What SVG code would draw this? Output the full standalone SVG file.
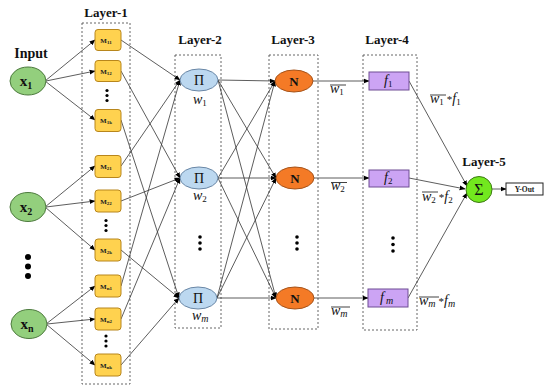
<svg xmlns="http://www.w3.org/2000/svg" width="550" height="391" viewBox="0 0 550 391">
<defs>
<marker id="ar" viewBox="0 0 10 10" refX="9" refY="5" markerWidth="6" markerHeight="6" markerUnits="userSpaceOnUse" orient="auto">
<path d="M0,1 L10,5 L0,9 z" fill="#000"/>
</marker>
<style>
.lbl{font-family:"Liberation Serif",serif;font-weight:bold;font-size:13px;fill:#111;text-anchor:middle}
.box{fill:none;stroke:#555;stroke-width:0.9;stroke-dasharray:2,2}
.in{fill:#93cf7d;stroke:#4d7a3e;stroke-width:1}
.m{fill:#ffd24f;stroke:#b8861c;stroke-width:1}
.pi{fill:#bcd8f0;stroke:#6a87a6;stroke-width:1}
.n{fill:#f47a26;stroke:#a5531a;stroke-width:1}
.f{fill:#cca4f4;stroke:#6e4d94;stroke-width:1}
.sg{fill:#72e81e;stroke:#3c7a12;stroke-width:1}
.yo{fill:#fff;stroke:#222;stroke-width:1}
.mt{font-family:"Liberation Serif",serif;font-weight:bold;font-size:7px;fill:#222;text-anchor:middle}
.xt{font-family:"Liberation Serif",serif;font-weight:bold;font-size:15px;fill:#111;text-anchor:middle}
.pt{font-family:"Liberation Serif",serif;font-size:14px;fill:#111;text-anchor:middle}
.nt{font-family:"Liberation Serif",serif;font-weight:bold;font-size:13px;fill:#111;text-anchor:middle}
.it{font-family:"Liberation Serif",serif;font-style:italic;font-size:14px;fill:#111}
.sb{font-style:normal;font-size:9px}
.sm{font-style:italic;font-size:10px}
.c{stroke:#333;stroke-width:0.8;fill:none;marker-end:url(#ar)}
.ob{stroke:#111;stroke-width:0.8}
.d{fill:#000}
</style>
</defs>

<g id="layer-boxes">
<rect class="box" x="82" y="23" width="48" height="361"/>
<rect class="box" x="175" y="55" width="46" height="273"/>
<rect class="box" x="269" y="55" width="49" height="274"/>
<rect class="box" x="363" y="55" width="54" height="275"/>
</g>

<g id="layer-labels">
<text class="lbl" x="106" y="17">Layer-1</text>
<text class="lbl" x="200" y="44">Layer-2</text>
<text class="lbl" x="293" y="44">Layer-3</text>
<text class="lbl" x="387" y="44">Layer-4</text>
<text class="lbl" x="484" y="166">Layer-5</text>
<text class="lbl" x="31" y="58" style="font-size:14px">Input</text>
</g>

<g id="connectors">
<line class="c" x1="45" y1="81" x2="95" y2="40"/>
<line class="c" x1="46" y1="81" x2="95" y2="71"/>
<line class="c" x1="45" y1="81" x2="95" y2="120"/>
<line class="c" x1="45" y1="207" x2="95" y2="166"/>
<line class="c" x1="46" y1="207" x2="95" y2="201"/>
<line class="c" x1="45" y1="207" x2="95" y2="250"/>
<line class="c" x1="46" y1="324" x2="95" y2="286"/>
<line class="c" x1="47" y1="324" x2="95" y2="319"/>
<line class="c" x1="46" y1="324" x2="95" y2="365"/>
<line class="c" x1="121" y1="40" x2="180" y2="80"/>
<line class="c" x1="121" y1="166" x2="180" y2="80"/>
<line class="c" x1="121" y1="286" x2="180" y2="80"/>
<line class="c" x1="121" y1="71" x2="180" y2="178"/>
<line class="c" x1="121" y1="201" x2="180" y2="178"/>
<line class="c" x1="121" y1="319" x2="180" y2="178"/>
<line class="c" x1="121" y1="120" x2="179" y2="298"/>
<line class="c" x1="121" y1="250" x2="179" y2="298"/>
<line class="c" x1="121" y1="365" x2="179" y2="298"/>
<line class="c" x1="218" y1="80" x2="275" y2="81"/>
<line class="c" x1="218" y1="80" x2="276" y2="178"/>
<line class="c" x1="218" y1="80" x2="276" y2="298"/>
<line class="c" x1="218" y1="178" x2="275" y2="81"/>
<line class="c" x1="218" y1="178" x2="276" y2="178"/>
<line class="c" x1="218" y1="178" x2="276" y2="298"/>
<line class="c" x1="217" y1="298" x2="275" y2="81"/>
<line class="c" x1="217" y1="298" x2="276" y2="178"/>
<line class="c" x1="217" y1="298" x2="276" y2="298"/>
<line class="c" x1="313" y1="81" x2="369" y2="81"/>
<line class="c" x1="314" y1="178" x2="369" y2="178"/>
<line class="c" x1="314" y1="298" x2="368" y2="298"/>
<line class="c" x1="409" y1="81" x2="467" y2="186"/>
<line class="c" x1="409" y1="178" x2="465" y2="189"/>
<line class="c" x1="408" y1="298" x2="467" y2="193"/>
<line class="c" x1="492" y1="189" x2="506" y2="189"/>
</g>

<g id="x1"><ellipse class="in" cx="28" cy="81" rx="18" ry="14"/><text class="xt" x="26" y="86">x<tspan font-size="10" dy="3">1</tspan></text></g>
<g id="x2"><ellipse class="in" cx="28" cy="207" rx="18" ry="14.5"/><text class="xt" x="26" y="212">x<tspan font-size="10" dy="3">2</tspan></text></g>
<g id="xn"><ellipse class="in" cx="29" cy="324" rx="18" ry="14.5"/><text class="xt" x="27" y="329">x<tspan font-size="10" dy="3">n</tspan></text></g>
<g id="input-dots"><circle class="d" cx="28" cy="257" r="3"/><circle class="d" cx="28" cy="266.5" r="3"/><circle class="d" cx="28" cy="276" r="3"/></g>

<g id="M11"><rect class="m" x="95" y="29.5" width="26" height="21" rx="3"/><text class="mt" x="106" y="42.5">M<tspan font-size="5" dy="1">11</tspan></text></g>
<g id="M12"><rect class="m" x="95" y="60.5" width="26" height="21" rx="3"/><text class="mt" x="106" y="73.5">M<tspan font-size="5" dy="1">12</tspan></text></g>
<g id="M1k"><rect class="m" x="95" y="109.5" width="26" height="22" rx="3"/><text class="mt" x="106" y="123">M<tspan font-size="5" dy="1">1k</tspan></text></g>
<g id="M21"><rect class="m" x="95" y="155.5" width="26" height="22" rx="3"/><text class="mt" x="106" y="169">M<tspan font-size="5" dy="1">21</tspan></text></g>
<g id="M22"><rect class="m" x="95" y="190" width="26" height="22" rx="3"/><text class="mt" x="106" y="203.5">M<tspan font-size="5" dy="1">22</tspan></text></g>
<g id="M2k"><rect class="m" x="95" y="239" width="26" height="22" rx="3"/><text class="mt" x="106" y="252.5">M<tspan font-size="5" dy="1">2k</tspan></text></g>
<g id="Mn1"><rect class="m" x="95" y="275" width="26" height="22" rx="3"/><text class="mt" x="106" y="288.5">M<tspan font-size="5" dy="1">n1</tspan></text></g>
<g id="Mn2"><rect class="m" x="95" y="308" width="26" height="22" rx="3"/><text class="mt" x="106" y="321.5">M<tspan font-size="5" dy="1">n2</tspan></text></g>
<g id="Mnk"><rect class="m" x="95" y="354" width="26" height="22" rx="3"/><text class="mt" x="106" y="367.5">M<tspan font-size="5" dy="1">nk</tspan></text></g>
<g id="layer1-dots">
<circle class="d" cx="107" cy="90.5" r="1.6"/><circle class="d" cx="107" cy="95.5" r="1.6"/><circle class="d" cx="107" cy="100.5" r="1.6"/>
<circle class="d" cx="106" cy="220.5" r="1.6"/><circle class="d" cx="106" cy="225.5" r="1.6"/><circle class="d" cx="106" cy="230.5" r="1.6"/>
<circle class="d" cx="106" cy="336" r="1.6"/><circle class="d" cx="106" cy="341" r="1.6"/><circle class="d" cx="106" cy="346" r="1.6"/>
</g>

<g id="P1"><ellipse class="pi" cx="199" cy="80" rx="19" ry="11"/><text class="pt" x="199" y="85">Π</text><text class="it" x="193" y="104">w<tspan class="sb" dy="2">1</tspan></text></g>
<g id="P2"><ellipse class="pi" cx="199" cy="178" rx="19" ry="11"/><text class="pt" x="199" y="183">Π</text><text class="it" x="193" y="200">w<tspan class="sb" dy="2">2</tspan></text></g>
<g id="Pm"><ellipse class="pi" cx="198" cy="298" rx="19" ry="11"/><text class="pt" x="198" y="303">Π</text><text class="it" x="192" y="320">w<tspan class="sm" dy="2">m</tspan></text></g>
<g id="layer2-dots"><circle class="d" cx="200" cy="237" r="1.8"/><circle class="d" cx="200" cy="243" r="1.8"/><circle class="d" cx="200" cy="249" r="1.8"/></g>

<g id="N1"><ellipse class="n" cx="294" cy="81" rx="19" ry="11"/><text class="nt" x="294" y="86">N</text></g>
<g id="N2"><ellipse class="n" cx="295" cy="178" rx="19" ry="11"/><text class="nt" x="295" y="183">N</text></g>
<g id="Nm"><ellipse class="n" cx="295" cy="298" rx="19" ry="11"/><text class="nt" x="295" y="303">N</text></g>
<g id="layer3-dots"><circle class="d" cx="297" cy="237" r="1.8"/><circle class="d" cx="297" cy="243" r="1.8"/><circle class="d" cx="297" cy="249" r="1.8"/></g>
<g id="wbar-labels">
<text class="it" x="330" y="93">w<tspan class="sb" dy="2">1</tspan></text><line class="ob" x1="330" y1="85" x2="346" y2="85"/>
<text class="it" x="331" y="190">w<tspan class="sb" dy="2">2</tspan></text><line class="ob" x1="331" y1="182.5" x2="347" y2="182.5"/>
<text class="it" x="331" y="315">w<tspan class="sm" dy="2">m</tspan></text><line class="ob" x1="331" y1="307" x2="350" y2="307"/>
</g>

<g id="f1"><rect class="f" x="369" y="72" width="40" height="18"/><text class="it" x="384" y="85">f<tspan class="sb" dy="2">1</tspan></text></g>
<g id="f2"><rect class="f" x="369" y="170" width="40" height="17"/><text class="it" x="384" y="182">f<tspan class="sb" dy="2">2</tspan></text></g>
<g id="fm"><rect class="f" x="368" y="289" width="40" height="18"/><text class="it" x="380" y="302">f<tspan class="sm" dx="2" dy="2">m</tspan></text></g>
<g id="layer4-dots"><circle class="d" cx="393" cy="238" r="1.8"/><circle class="d" cx="393" cy="244.5" r="1.8"/><circle class="d" cx="393" cy="251" r="1.8"/></g>
<g id="product-labels">
<text class="it" x="430" y="103">w<tspan class="sb" dy="2">1</tspan><tspan dy="-2" dx="3" font-style="normal" font-size="11">*</tspan><tspan>f</tspan><tspan class="sb" dy="2">1</tspan></text><line class="ob" x1="430" y1="95" x2="446" y2="95"/>
<text class="it" x="422" y="201">w<tspan class="sb" dy="2">2</tspan><tspan dy="-2" dx="3" font-style="normal" font-size="11">*</tspan><tspan>f</tspan><tspan class="sb" dy="2">2</tspan></text><line class="ob" x1="422" y1="192" x2="438" y2="192"/>
<text class="it" x="419" y="305">w<tspan class="sm" dy="2">m</tspan><tspan dy="-2" dx="3" font-style="normal" font-size="11">*</tspan><tspan>f</tspan><tspan class="sm" dy="2">m</tspan></text><line class="ob" x1="419" y1="297" x2="439" y2="297"/>
</g>

<g id="sigma"><circle class="sg" cx="479" cy="189.5" r="13"/><text class="pt" x="479" y="195" style="font-size:16px">Σ</text></g>
<g id="yout"><rect class="yo" x="506" y="183" width="37" height="12"/><text class="mt" x="524.5" y="192" style="font-size:7.5px">Y-Out</text></g>
</svg>
